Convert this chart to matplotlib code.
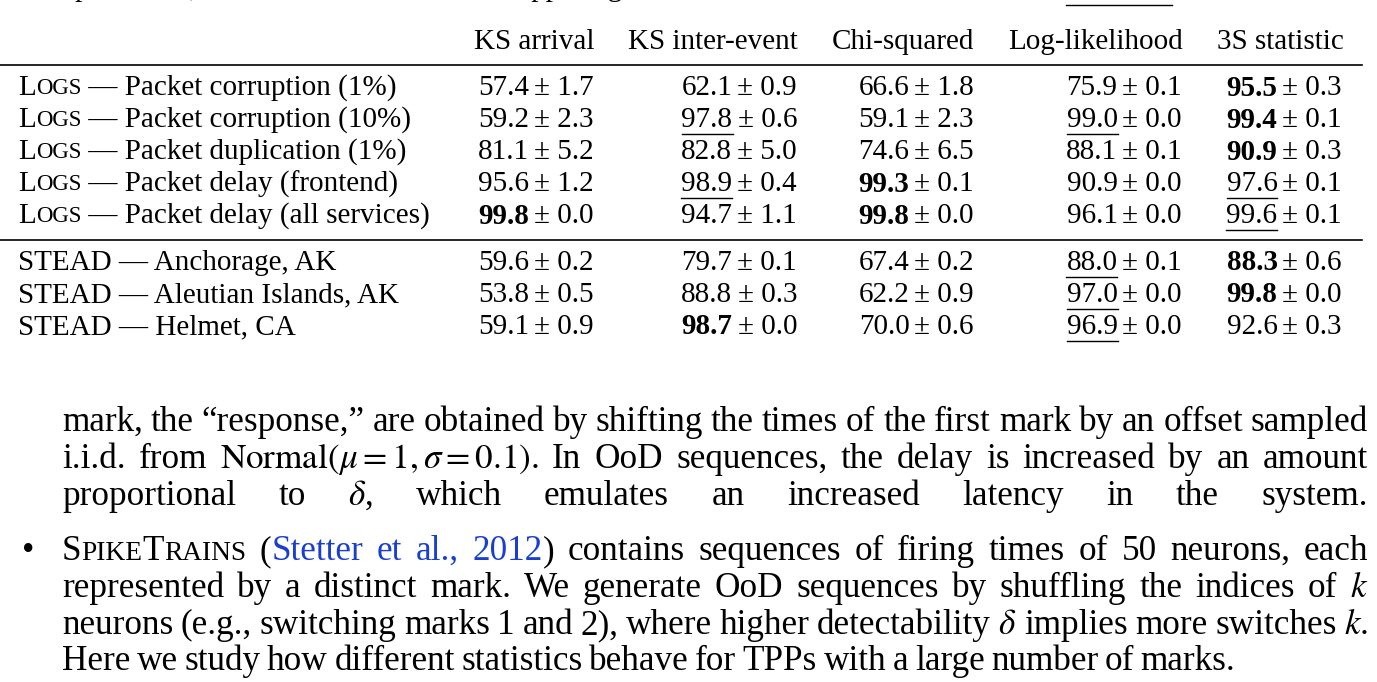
import matplotlib
matplotlib.use("Agg")
import matplotlib.pyplot as plt
from matplotlib.lines import Line2D

plt.rcParams['font.family'] = ['Liberation Serif', 'DejaVu Serif']
plt.rcParams['mathtext.fontset'] = 'stix'

columns = ["KS arrival", "KS inter-event", "Chi-squared", "Log-likelihood", "3S statistic"]
row_groups = ["LOGS"] * 5 + ["STEAD"] * 3
row_names = ["Packet corruption (1%)", "Packet corruption (10%)", "Packet duplication (1%)",
             "Packet delay (frontend)", "Packet delay (all services)",
             "Anchorage, AK", "Aleutian Islands, AK", "Helmet, CA"]
means = [[57.4, 62.1, 66.6, 75.9, 95.5],
         [59.2, 97.8, 59.1, 99.0, 99.4],
         [81.1, 82.8, 74.6, 88.1, 90.9],
         [95.6, 98.9, 99.3, 90.9, 97.6],
         [99.8, 94.7, 99.8, 96.1, 99.6],
         [59.6, 79.7, 67.4, 88.0, 88.3],
         [53.8, 88.8, 62.2, 97.0, 99.8],
         [59.1, 98.7, 70.0, 96.9, 92.6]]
stds = [[1.7, 0.9, 1.8, 0.1, 0.3],
        [2.3, 0.6, 2.3, 0.0, 0.1],
        [5.2, 5.0, 6.5, 0.1, 0.3],
        [1.2, 0.4, 0.1, 0.0, 0.1],
        [0.0, 1.1, 0.0, 0.0, 0.1],
        [0.2, 0.1, 0.2, 0.1, 0.6],
        [0.5, 0.3, 0.9, 0.0, 0.0],
        [0.9, 0.0, 0.6, 0.0, 0.3]]
# 'b' bold (best), 'u' underline (second), '' plain
marks = [['', '', '', '', 'b'],
         ['', 'u', '', 'u', 'b'],
         ['', '', '', '', 'b'],
         ['', 'u', 'b', '', 'u'],
         ['b', '', 'b', '', 'u'],
         ['', '', '', 'u', 'b'],
         ['', '', '', 'u', 'b'],
         ['', 'b', '', 'u', '']]

W, H = 1377, 682
fig = plt.figure(figsize=(W / 100, H / 100), dpi=100)
ax = fig.add_axes([0, 0, 1, 1])
ax.set_xlim(0, W)
ax.set_ylim(H, 0)
ax.axis('off')
r = fig.canvas.get_renderer()

FS = 21
col_end = [594, 797, 974, 1182, 1342]
col_head = [534, 713, 903, 1096, 1280]
header_y = 42
row_y = [88, 120, 152, 184, 216, 263, 295, 327]

def width(t):
    return t.get_window_extent(renderer=r).width

# partially visible line at top
ax.text(16, 2, "of experiments, with a mean and std in the upper right", fontsize=FS, va='bottom', color='black')
ax.add_line(Line2D([1066, 1172], [5, 5], color='black', lw=1))

for c, x in zip(columns, col_head):
    ax.text(x, header_y, c, fontsize=FS, ha='center', va='center')

ax.add_line(Line2D([0, 1362], [65, 65], color='black', lw=1.2))
ax.add_line(Line2D([0, 1362], [240, 240], color='black', lw=1.2))

for i, y in enumerate(row_y):
    x = 18
    if row_groups[i] == "LOGS":
        t = ax.text(x, y, "L", fontsize=FS, va='center'); x += width(t)
        t = ax.text(x, y + 1, "OGS", fontsize=FS * 0.78, va='center'); x += width(t)
        ax.text(x, y, " \u2014 " + row_names[i], fontsize=FS, va='center')
    else:
        ax.text(x, y, "STEAD \u2014 " + row_names[i], fontsize=FS, va='center')
    for j in range(5):
        e = col_end[j]
        st = ax.text(e, y, "\u00b1 %.1f" % stds[i][j], fontsize=FS, ha='right', va='center')
        sx = e - width(st) - 5
        m = ax.text(sx, y, "%.1f" % means[i][j], fontsize=FS, ha='right', va='center',
                    fontweight='bold' if marks[i][j] == 'b' else 'normal')
        if marks[i][j] == 'u':
            w = width(m)
            ax.add_line(Line2D([sx - w, sx], [y + 14, y + 14], color='black', lw=1))

# paragraph text
BFS = 25.3
def seg_words(s, color='black'):
    return [[(w, BFS, color)] for w in s.split(' ')]

def draw_line(words, x0, x1, y, justify=True):
    arts = []
    ws = []
    for wd in words:
        pieces = []
        tw = 0
        for txt, fs, col in wd:
            t = ax.text(0, y, txt, fontsize=fs, color=col, va='baseline')
            pw = width(t)
            pieces.append((t, tw))
            tw += pw
        arts.append(pieces)
        ws.append(tw)
    total = sum(ws)
    n = len(words)
    gap = (x1 - x0 - total) / (n - 1) if (justify and n > 1) else 6.5
    x = x0
    for pieces, w in zip(arts, ws):
        for t, off in pieces:
            t.set_x(x + off)
        x += w + gap

sc = BFS * 0.78
blue = '#1a3fd0'
lines = [
    (seg_words("mark, the \u201cresponse,\u201d are obtained by shifting the times of the first mark by an offset sampled"), True, 431),
    (seg_words("i.i.d. from") + [[(r"$\mathrm{Normal}(\mu=1,\sigma=0.1)$.", BFS, 'black')]] +
     seg_words("In OoD sequences, the delay is increased by an amount"), True, 468),
    (seg_words("proportional to") + [[(r"$\delta$,", BFS, 'black')]] +
     seg_words("which emulates an increased latency in the system."), True, 505),
    ([[("S", BFS, 'black'), ("PIKE", sc, 'black'), ("T", BFS, 'black'), ("RAINS", sc, 'black')],
      [("(", BFS, 'black'), ("Stetter", BFS, blue)], [("et", BFS, blue)],
      [("al.,", BFS, blue)], [("2012", BFS, blue), (")", BFS, 'black')]] +
     seg_words("contains sequences of firing times of 50 neurons, each"), True, 560),
    (seg_words("represented by a distinct mark. We generate OoD sequences by shuffling the indices of") +
     [[(r"$k$", BFS, 'black')]], True, 597),
    (seg_words("neurons (e.g., switching marks 1 and 2), where higher detectability") + [[(r"$\delta$", BFS, 'black')]] +
     seg_words("implies more switches") + [[(r"$k$.", BFS, 'black')]], True, 634),
    (seg_words("Here we study how different statistics behave for TPPs with a large number of marks."), False, 670),
]
for words, just, y in lines:
    words = [w for w in words if w[0][0] != '']
    draw_line(words, 62, 1368, y, just)
ax.text(22, 560, "\u2022", fontsize=BFS, va='baseline')

fig.savefig("out.png", dpi=100)
